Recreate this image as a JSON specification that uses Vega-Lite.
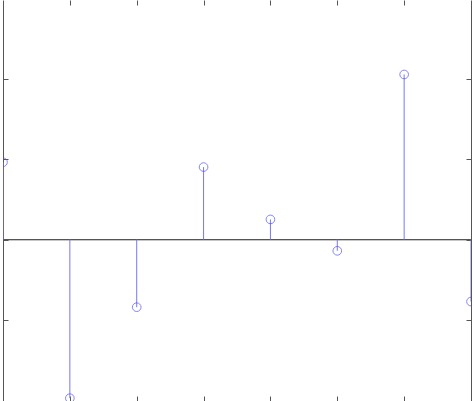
{
  "$schema": "https://vega.github.io/schema/vega-lite/v6.json",
  "width": 468,
  "height": 401,
  "autosize": {"type": "none"},
  "padding": {"left": 3, "top": 0, "right": 3, "bottom": 0},
  "background": "white",
  "config": {
    "view": {"stroke": null},
    "axis": {
      "labels": false,
      "title": null,
      "grid": false,
      "domain": false,
      "tickSize": -5,
      "tickColor": "#555555",
      "tickWidth": 1
    },
    "axisY": {"domain": true, "domainColor": "#555555", "domainWidth": 1}
  },
  "data": {
    "values": [
      {"n": 0, "value": 0.96},
      {"n": 1, "value": -1.97},
      {"n": 2, "value": -0.84},
      {"n": 3, "value": 0.9},
      {"n": 4, "value": 0.25},
      {"n": 5, "value": -0.14},
      {"n": 6, "value": 2.05},
      {"n": 7, "value": -0.77}
    ]
  },
  "layer": [
    {
      "mark": {"type": "rule", "color": "#555555", "strokeWidth": 1},
      "encoding": {
        "y": {"datum": 0, "type": "quantitative", "scale": {"domain": [-2.005, 2.975], "nice": false, "zero": false}, "axis": {"orient": "left", "values": [-1, 0, 1, 2]}}
      }
    },
    {
      "mark": {"type": "rule", "color": "#7878f5", "strokeWidth": 1, "clip": true},
      "encoding": {
        "x": {"field": "n", "type": "quantitative", "scale": {"domain": [0, 7], "nice": false}, "axis": {"orient": "bottom", "values": [1, 2, 3, 4, 5, 6]}},
        "y": {"field": "value", "type": "quantitative", "scale": {"domain": [-2.005, 2.975], "nice": false, "zero": false}, "axis": {"orient": "right", "values": [-1, 0, 1, 2]}},
        "y2": {"datum": 0}
      }
    },
    {
      "mark": {"type": "point", "shape": "circle", "filled": false, "size": 75, "color": "#5050ee", "strokeWidth": 1, "clip": true},
      "encoding": {
        "x": {"field": "n", "type": "quantitative", "scale": {"domain": [0, 7], "nice": false}, "axis": {"orient": "top", "values": [1, 2, 3, 4, 5, 6]}},
        "y": {"field": "value", "type": "quantitative", "scale": {"domain": [-2.005, 2.975], "nice": false, "zero": false}, "axis": null}
      }
    }
  ],
  "resolve": {"axis": {"x": "independent", "y": "independent"}}
}
